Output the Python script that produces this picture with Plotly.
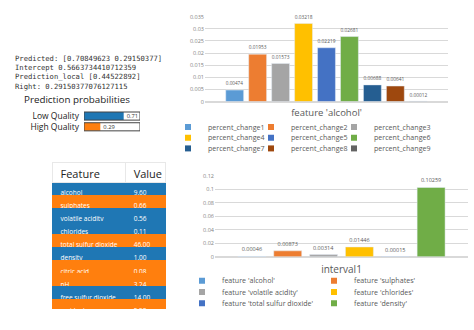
import plotly.graph_objects as go

W, H = 474, 330


def px_x(x):
    return x / W


def px_y(y):
    return 1 - y / H


# ---- LIME explanation summary -------------------------------------------
summary_lines = [
    "Predicted: [0.70849623 0.29150377]",
    "Intercept 0.5663734410712359",
    "Prediction_local [0.44522892]",
    "Right: 0.29150377076127115",
]
class_names = ["Low Quality", "High Quality"]
class_probs = [0.70849623, 0.29150377]
class_colors = ["#1f77b4", "#ff7f0e"]

# ---- feature values of the explained instance ------------------------------
features = ["alcohol", "sulphates", "volatile acidity", "chlorides",
            "total sulfur dioxide", "density", "citric acid", "pH",
            "free sulfur dioxide", "residual sugar"]
feature_values = [9.60, 0.66, 0.56, 0.11, 46.00, 1.00, 0.08, 3.24, 14.00, 2.50]
feature_side = ["Low Quality", "High Quality", "Low Quality", "Low Quality",
                "High Quality", "Low Quality", "High Quality", "High Quality",
                "Low Quality", "High Quality"]

# ---- percent change of feature 'alcohol' -----------------------------------
pc_names = ["percent_change%d" % i for i in range(1, 10)]
pc_values = [0.00474, 0.01953, 0.01573, 0.03218, 0.02219, 0.02681,
             0.00688, 0.00641, 0.00012]
pc_colors = ["#5B9BD5", "#ED7D31", "#A5A5A5", "#FFC000", "#4472C4",
             "#70AD47", "#255E91", "#9E480E", "#636363"]

# ---- interval1 per feature -------------------------------------------------
iv_names = ["feature 'alcohol'", "feature 'sulphates'",
            "feature 'volatile acidity'", "feature 'chlorides'",
            "feature 'total sulfur dioxide'", "feature 'density'"]
iv_values = [0.00046, 0.00873, 0.00314, 0.01446, 0.00015, 0.10259]
iv_colors = ["#5B9BD5", "#ED7D31", "#A5A5A5", "#FFC000", "#4472C4", "#70AD47"]

LABEL_GRAY = "#595959"
GRID = "#D9D9D9"
SANS = "Open Sans"

fig = go.Figure()

# prediction probability bars: filled share + outlined full scale
side_color = dict(zip(class_names, class_colors))
fig.add_trace(go.Bar(
    x=class_probs, y=class_names, orientation="h",
    xaxis="x3", yaxis="y3", offsetgroup="prob", width=0.755,
    marker=dict(color=class_colors, line=dict(width=0)),
    text=["%.2f" % p for p in class_probs], textposition="outside",
    textfont=dict(family=SANS, size=10, color="#333"),
    cliponaxis=False, showlegend=False, hoverinfo="skip"))
fig.add_trace(go.Bar(
    x=[1.0 for _ in class_names], y=class_names, orientation="h",
    xaxis="x3", yaxis="y3", offsetgroup="prob", width=0.755,
    marker=dict(color="rgba(0,0,0,0)", line=dict(color="#444", width=1)),
    showlegend=False, hoverinfo="skip"))

# feature table (non-breaking spaces keep each name on one line)
row_colors = [side_color[s] for s in feature_side]
fig.add_trace(go.Table(
    domain=dict(x=[px_x(52.5), px_x(166)], y=[px_y(313.5), px_y(162)]),
    columnwidth=[73.5, 40],
    header=dict(values=["Feature", "Value"], align="left", height=20,
                fill_color="white", line=dict(color="#e8e8e8", width=1),
                font=dict(family=SANS, size=11, color="#222")),
    cells=dict(values=[[f.replace(" ", "\u00a0") for f in features],
                       ["%.2f" % v for v in feature_values]],
               align="left", height=13.1,
               fill_color=[row_colors, row_colors],
               line=dict(color=[row_colors, row_colors], width=1),
               font=dict(family=SANS, size=6.5, color="white")),
))

legends = {}
legend_common = dict(orientation="h", bgcolor="rgba(0,0,0,0)", borderwidth=0,
                     xanchor="left", yanchor="middle", itemwidth=30,
                     font=dict(family=SANS, size=7.1, color=LABEL_GRAY))
# legend entry text starts 40px right of the legend's left edge
TEXT_OFFSET = 40

# percent change bars, legend laid out as a 3x3 grid
top_cols = [208, 291, 374]
for i, (name, val, col) in enumerate(zip(pc_names, pc_values, pc_colors)):
    lg = "legend" if i == 0 else "legend%d" % (i + 1)
    legends[lg] = dict(legend_common,
                       x=px_x(top_cols[i % 3] - TEXT_OFFSET),
                       y=px_y(126 + 11 * (i // 3)))
    fig.add_trace(go.Bar(
        x=["feature 'alcohol'"], y=[val], name=name, xaxis="x", yaxis="y",
        marker=dict(color=col), text=["%.5f" % val], textposition="outside",
        textfont=dict(family=SANS, size=5.5, color=LABEL_GRAY),
        cliponaxis=False, showlegend=False))
    fig.add_trace(go.Scatter(
        x=[None], y=[None], mode="markers", name=name, xaxis="x", yaxis="y",
        marker=dict(symbol="square", size=6, color=col),
        legend=lg, hoverinfo="skip"))

# interval1 bars, legend laid out as a 3x2 grid
bot_cols = [222, 354]
for i, (name, val, col) in enumerate(zip(iv_names, iv_values, iv_colors)):
    lg = "legend%d" % (len(pc_names) + i + 1)
    legends[lg] = dict(legend_common,
                       x=px_x(bot_cols[i % 2] - TEXT_OFFSET),
                       y=px_y(283.5 + 11.6 * (i // 2)))
    fig.add_trace(go.Bar(
        x=["interval1"], y=[val], name=name, xaxis="x2", yaxis="y2",
        marker=dict(color=col), text=["%.5f" % val], textposition="outside",
        textfont=dict(family=SANS, size=5.5, color=LABEL_GRAY),
        cliponaxis=False, showlegend=False))
    fig.add_trace(go.Scatter(
        x=[None], y=[None], mode="markers", name=name, xaxis="x2", yaxis="y2",
        marker=dict(symbol="square", size=6, color=col),
        legend=lg, hoverinfo="skip"))

tick_small = dict(family=SANS, size=5.5, color="#7f7f7f")

annotations = [
    dict(text=line, x=px_x(13), y=px_y(55.7 + 9.55 * k), xref="paper",
         yref="paper", xanchor="left", yanchor="middle", showarrow=False,
         font=dict(family="DejaVu Sans Mono", size=7.2, color="#333"))
    for k, line in enumerate(summary_lines)
]
annotations.append(dict(
    text="Prediction probabilities", x=px_x(77), y=px_y(98), xref="paper",
    yref="paper", xanchor="center", yanchor="middle", showarrow=False,
    font=dict(family=SANS, size=9.8, color="#222")))

fig.update_layout(
    width=W, height=H, margin=dict(l=0, r=0, t=0, b=0),
    paper_bgcolor="white", plot_bgcolor="white",
    barmode="group", bargap=0.15, bargroupgap=0.22,
    annotations=annotations,
    xaxis=dict(domain=[px_x(205), px_x(448)], anchor="y", type="category",
               showgrid=False, showline=False, ticks="", ticklabelstandoff=4,
               tickfont=dict(family=SANS, size=9.5, color=LABEL_GRAY)),
    yaxis=dict(domain=[px_y(100), px_y(13)], anchor="x", range=[0, 0.035],
               dtick=0.005, gridcolor=GRID, zerolinecolor=GRID,
               showline=False, ticks="", tickfont=tick_small),
    xaxis2=dict(domain=[px_x(215), px_x(468)], anchor="y2", type="category",
                showgrid=False, showline=False, ticks="", ticklabelstandoff=5,
                tickfont=dict(family=SANS, size=10, color=LABEL_GRAY)),
    yaxis2=dict(domain=[px_y(259), px_y(176)], anchor="x2", range=[0, 0.12],
                dtick=0.02, gridcolor=GRID, zerolinecolor=GRID,
                showline=False, ticks="", tickfont=tick_small),
    xaxis3=dict(domain=[px_x(84), px_x(140)], anchor="y3", range=[0, 1],
                visible=False),
    yaxis3=dict(domain=[px_y(131.35), px_y(109.35)], anchor="x3",
                type="category", range=[1.5, -0.5], showgrid=False,
                tickmode="array", tickvals=class_names, ticktext=class_names,
                showline=False, ticks="", zeroline=False, ticklabelstandoff=4,
                tickfont=dict(family=SANS, size=8.5, color="#222")),
    **legends,
)

fig.write_html("out.html")
